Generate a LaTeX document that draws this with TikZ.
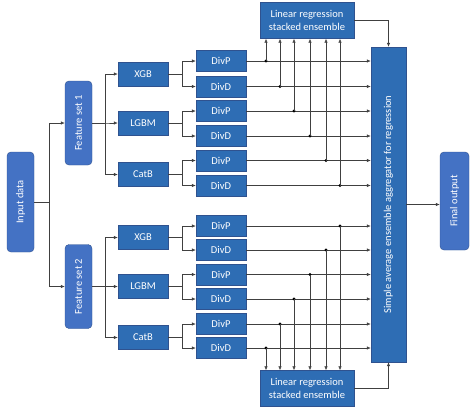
\documentclass[tikz,border=0pt]{standalone}
\usepackage{fontspec}
\setmainfont{Carlito}
\usetikzlibrary{positioning,arrows.meta,calc}
\definecolor{boxblue}{HTML}{2E6DB4}
\definecolor{boxedge}{HTML}{2F528F}
\definecolor{roundblue}{HTML}{4472C4}
\definecolor{wiregray}{HTML}{404040}
\tikzset{
    every node/.style={font=\fontsize{10.5}{12.5}\selectfont},
    blk/.style={draw=boxedge,fill=boxblue,text=white,inner sep=1pt,align=center},
    rblk/.style={blk,fill=roundblue,rounded corners=4pt},
    model/.style={blk,minimum width=50pt,minimum height=24pt},
    divbox/.style={blk,minimum width=50pt,minimum height=21pt},
    lrbox/.style={blk,minimum width=94pt,minimum height=36pt},
    wire/.style={draw=wiregray,semithick,-{Latex[length=4pt,width=3.5pt]}},
    tap/.style={circle,fill=black,inner sep=0pt,minimum size=3.4pt}
}
\begin{document}
\begin{tikzpicture}[x=1pt,y=-1pt]
    \useasboundingbox (0,0) rectangle (474,408);
    % inputs and feature sets
    \node[rblk,minimum width=27pt,minimum height=100pt] (in) at (20.5,202) {\rotatebox{90}{Input data}};
    \node[rblk,minimum width=27pt,minimum height=84pt] (fs1) at (78.5,123) {\rotatebox{90}{Feature set 1}};
    \node[rblk,minimum width=27pt,minimum height=84pt] (fs2) at (78.5,286.5) {\rotatebox{90}{Feature set 2}};
    % base models
    \node[model] (xgb1) at (143,74) {XGB};
    \node[model] (lgbm1) at (143,123) {LGBM};
    \node[model] (catb1) at (143,174.5) {CatB};
    \node[model] (xgb2) at (143,237.5) {XGB};
    \node[model] (lgbm2) at (143,286.5) {LGBM};
    \node[model] (catb2) at (143,337.5) {CatB};
    % DivP / DivD outputs
    \foreach \n/\y/\t in {11/61/DivP,12/86.5/DivD,13/111/DivP,14/136/DivD,15/160.5/DivP,16/185.5/DivD,
                          21/226/DivP,22/250/DivD,23/274.5/DivP,24/299/DivD,25/324/DivP,26/348/DivD}
        \node[divbox] (d\n) at (221,\y) {\t};
    % ensembles
    \node[lrbox] (lrtop) at (307,20.5) {Linear regression\\stacked ensemble};
    \node[lrbox] (lrbot) at (307,388.5) {Linear regression\\stacked ensemble};
    \node[blk,minimum width=35pt,minimum height=315pt] (agg) at (388.5,204.5)
        {\rotatebox{90}{Simple average ensemble aggregator for regression}};
    \node[rblk,minimum width=29pt,minimum height=98pt] (final) at (454.5,201) {\rotatebox{90}{Final output}};

    % input -> feature sets
    \draw[wire] (in.east) -- ++(15,0) |- (fs1.west);
    \draw[wire] (in.east) -- ++(15,0) |- (fs2.west);
    % feature sets -> models
    \foreach \f/\a/\b/\c in {fs1/xgb1/lgbm1/catb1,fs2/xgb2/lgbm2/catb2}{
        \draw[wire] (\f.east) -- ++(13,0) |- (\a.west);
        \draw[wire] (\f.east) -- ++(13,0) |- (\b.west);
        \draw[wire] (\f.east) -- ++(13,0) |- (\c.west);
    }
    % models -> DivP / DivD
    \foreach \m/\a/\b in {xgb1/d11/d12,lgbm1/d13/d14,catb1/d15/d16,xgb2/d21/d22,lgbm2/d23/d24,catb2/d25/d26}{
        \draw[wire] (\m.east) -- ++(14,0) |- (\a.west);
        \draw[wire] (\m.east) -- ++(14,0) |- (\b.west);
    }
    % outputs -> aggregator, with taps to the stacked ensembles
    \foreach \n/\x in {11/266,12/280,13/294,14/310,15/326,16/340}{
        \coordinate (c\n) at (\x,0);
        \draw[wire] (d\n.east) -- (d\n.east -| agg.west);
        \node[tap] (t\n) at (d\n.east -| c\n) {};
        \draw[wire] (t\n.center) -- (t\n.center |- lrtop.south);
    }
    \foreach \n/\x in {21/340,22/326,23/310,24/294,25/280,26/266}{
        \coordinate (c\n) at (\x,0);
        \draw[wire] (d\n.east) -- (d\n.east -| agg.west);
        \node[tap] (t\n) at (d\n.east -| c\n) {};
        \draw[wire] (t\n.center) -- (t\n.center |- lrbot.north);
    }
    \draw[wire] (lrtop.east) -| (agg.north);
    \draw[wire] (lrbot.east) -| (agg.south);
    \draw[wire] (agg.east) -- (agg.east -| final.west);
\end{tikzpicture}
\end{document}
